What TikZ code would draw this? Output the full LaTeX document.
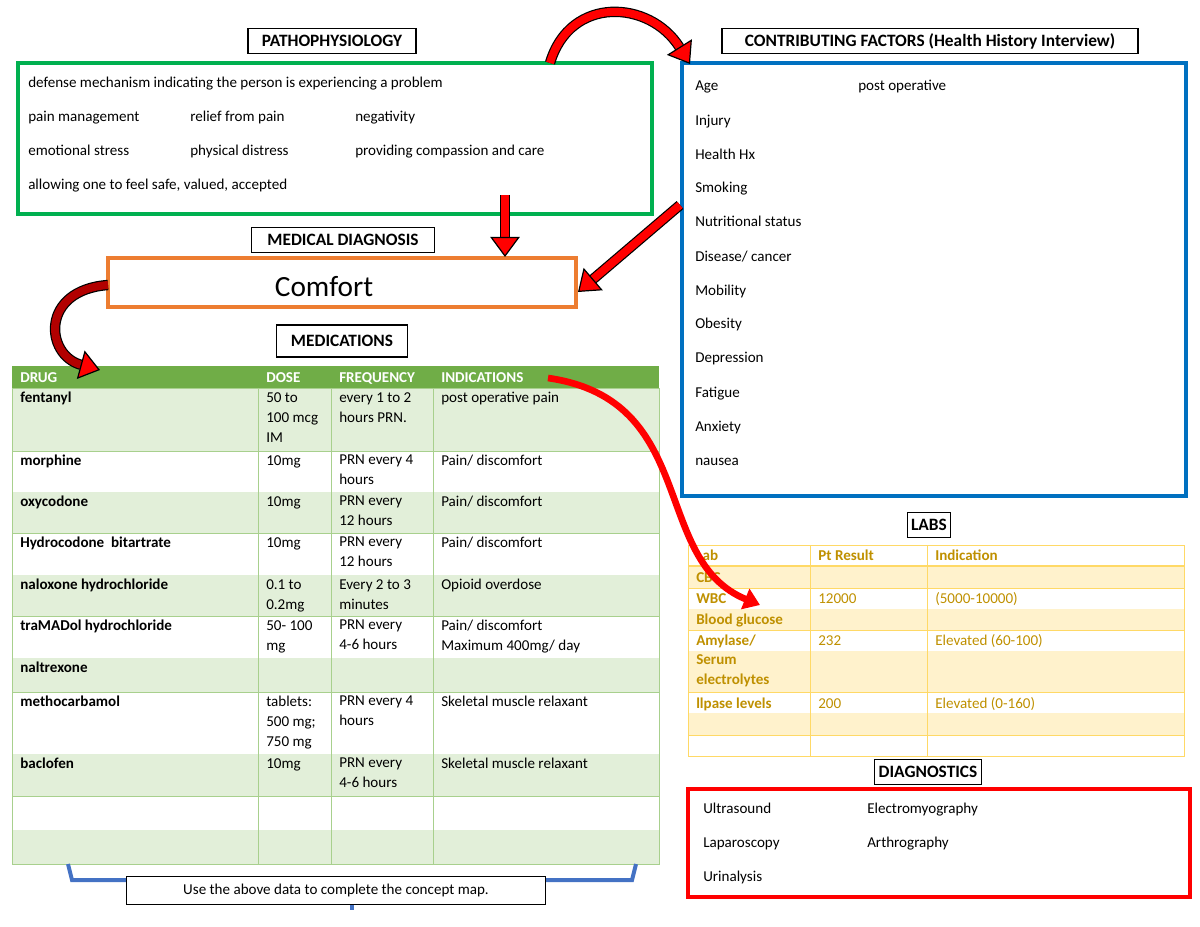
\documentclass[tikz,border=0pt]{standalone}
\usepackage{fontspec}
\setmainfont{Carlito}
\usetikzlibrary{arrows.meta,positioning}
\definecolor{greenbox}{HTML}{00B050}
\definecolor{bluebox}{HTML}{0070C0}
\definecolor{orangebox}{HTML}{ED7D31}
\definecolor{medhead}{HTML}{70AD47}
\definecolor{medshade}{HTML}{E2EFD9}
\definecolor{medline}{HTML}{A8D08D}
\definecolor{labtext}{HTML}{BF9000}
\definecolor{labline}{HTML}{FFD966}
\definecolor{labshade}{HTML}{FFF2CC}
\definecolor{bracket}{HTML}{4472C4}
\begin{document}
\begin{tikzpicture}[x=0.75pt,y=-0.75pt,
    every node/.style={font=\fontsize{11.3}{15}\selectfont, inner sep=0pt},
    title/.style={draw, thick, inner sep=3pt, minimum height=19pt, font=\fontsize{13}{15}\selectfont\bfseries},
    item/.style={anchor=base west, yshift=-4pt},
    cell/.style={anchor=north west, align=left},
    bigarrow/.style={draw=black, line width=0.9pt, double=red, double distance=6pt,
        -{Triangle[length=15pt,width=22pt,fill=red,line width=0.9pt]}},
    thinarrow/.style={red, line width=5pt, -{Triangle[length=12pt,width=16pt]}}]
\useasboundingbox (0,0) rectangle (1200,927);
% pathophysiology
\node[title, minimum width=126pt] (pathlbl) at (332,41) {PATHOPHYSIOLOGY};
\draw[greenbox, line width=3pt] (18,63) rectangle (652,214);
\coordinate (pathtop) at (550,63);
\coordinate (pathbot) at (505,195);
\node[item] at (28,82) {defense mechanism indicating the person is experiencing a problem};
\node[item] at (28,116) {pain management};
\node[item] at (190,116) {relief from pain};
\node[item] at (355,116) {negativity};
\node[item] at (28,150) {emotional stress};
\node[item] at (190,150) {physical distress};
\node[item] at (355,150) {providing compassion and care};
\node[item] at (28,184) {allowing one to feel safe, valued, accepted};
% contributing factors
\node[title, minimum width=312pt] (factlbl) at (930,41) {CONTRIBUTING FACTORS (Health History Interview)};
\draw[bluebox, line width=3pt] (682,63) rectangle (1186,496);
\coordinate (facttop) at (690,64);
\coordinate (factleft) at (680,205);
\foreach \y/\t in {85/Age,120/Injury,154/Health Hx,187/Smoking,221/Nutritional status,
    256/{Disease/ cancer},290/Mobility,323/Obesity,357/Depression,392/Fatigue,426/Anxiety,460/nausea}
    \node[item] at (695,\y) {\t};
\node[item] at (858,85) {post operative};
% medical diagnosis
\node[title, minimum width=137pt] (diaglbl) at (343,240) {MEDICAL DIAGNOSIS};
\draw[orangebox, line width=3pt] (108,258) rectangle (576,307);
\node[font=\fontsize{22}{26}\selectfont] (comfort) at (324,287) {Comfort};
\coordinate (comftop) at (505,257);
\coordinate (comfright) at (578,292);
\coordinate (comfleft) at (108,285);
% medications
\node[title, minimum width=98pt, minimum height=24pt] (medlbl) at (342,341) {MEDICATIONS};
\fill[medhead] (12,366) rectangle (659,388);
\foreach \x/\t in {20/DRUG,266/DOSE,339/FREQUENCY,441/INDICATIONS}
    \node[item, white, font=\fontsize{11.3}{13}\selectfont\bfseries] at (\x,377) {\t};
\coordinate (medtop) at (100,370);
\coordinate (medind) at (548,378);
\foreach \t/\b/\s/\dr/\ds/\fq/\in in {
    388/451/1/fentanyl/{50 to\\100 mcg\\IM}/{every 1 to 2\\hours PRN.}/post operative pain,
    451/492/0/morphine/10mg/{PRN every 4\\hours}/{Pain/ discomfort},
    492/533/1/oxycodone/10mg/{PRN every\\12 hours}/{Pain/ discomfort},
    533/575/0/Hydrocodone\ \ bitartrate/10mg/{PRN every\\12 hours}/{Pain/ discomfort},
    575/616/1/naloxone hydrochloride/{0.1 to\\0.2mg}/{Every 2 to 3\\minutes}/Opioid overdose,
    616/658/0/traMADol hydrochloride/{50- 100\\mg}/{PRN every\\4-6 hours}/{Pain/ discomfort\\Maximum 400mg/ day},
    658/692/1/naltrexone/{}/{}/{},
    692/754/0/methocarbamol/{tablets:\\500 mg;\\750 mg}/{PRN every 4\\hours}/Skeletal muscle relaxant,
    754/796/1/baclofen/10mg/{PRN every\\4-6 hours}/Skeletal muscle relaxant,
    796/830/0/{}/{}/{}/{},
    830/864/1/{}/{}/{}/{}}{
    \ifnum\s=1 \fill[medshade] (12,\t) rectangle (659,\b); \fi
    \draw[medline] (12,\b) -- (659,\b);
    \node[cell, font=\fontsize{11.3}{15}\selectfont\bfseries] at (20,\t+4) {\dr};
    \node[cell] at (266,\t+4) {\ds};
    \node[cell] at (339,\t+4) {\fq};
    \node[cell] at (441,\t+4) {\in};
}
\draw[medline] (12,388) rectangle (659,864);
\foreach \x in {258,331,433} \draw[medline] (\x,388) -- (\x,864);
% labs
\node[title] (lablbl) at (929,525) {LABS};
\foreach \t/\b/\s in {566/588/1,588/609/0,609/630/1,630/651/0,651/692/1,692/713/0,713/735/1,735/756/0}{
    \ifnum\s=1 \fill[labshade] (688,\t) rectangle (1184,\b); \fi
    \draw[labline] (688,\b) -- (1184,\b);
}
\draw[labline] (688,545) rectangle (1184,756);
\draw[labline, line width=2pt] (688,566) -- (1184,566);
\foreach \x in {810,927} \draw[labline] (\x,545) -- (\x,756);
\begin{scope}[every node/.append style={labtext}]
\foreach \x/\t in {696/Lab,818/Pt Result,935/Indication}
    \node[item, font=\fontsize{11.3}{13}\selectfont\bfseries] at (\x,555) {\t};
\foreach \y/\t in {577/CBC,598/WBC,619/Blood glucose,640/{Amylase/},703/llpase levels}
    \node[item, font=\fontsize{11.3}{13}\selectfont\bfseries] at (696,\y) {\t};
\node[cell, font=\fontsize{11.3}{15}\selectfont\bfseries] at (696,654) {Serum\\electrolytes};
\node[item] at (818,598) {12000};
\node[item] at (935,598) {(5000-10000)};
\node[item] at (818,640) {232};
\node[item] at (935,640) {Elevated (60-100)};
\node[item] at (818,703) {200};
\node[item] at (935,703) {Elevated (0-160)};
\end{scope}
\coordinate (labwbc) at (760,605);
% diagnostics
\node[title] (dxlbl) at (928,772) {DIAGNOSTICS};
\draw[red, line width=3pt] (688,789) rectangle (1190,897);
\node[item] at (703,808) {Ultrasound};
\node[item] at (867,808) {Electromyography};
\node[item] at (703,842) {Laparoscopy};
\node[item] at (867,842) {Arthrography};
\node[item] at (703,876) {Urinalysis};
% bracket and note
\draw[bracket, line width=3pt] (68,864) -- (72,880) -- (632,880) -- (636,864);
\draw[bracket, line width=3pt] (352,880) -- (352,910);
\node[draw, fill=white, minimum width=314pt, minimum height=21pt, inner sep=3pt] (note) at (336,890)
    {Use the above data to complete the concept map.};
% arrows
\draw[bigarrow] (pathtop) .. controls (570,-5) and (650,0) .. (facttop);
\draw[bigarrow] (pathbot) -- (comftop);
\draw[bigarrow] (factleft) -- (comfright);
\draw[bigarrow, double=red!70!black] (comfleft) .. controls (40,290) and (45,355) .. (medtop);
\draw[thinarrow] (medind) .. controls (700,400) and (650,560) .. (labwbc);
\end{tikzpicture}
\end{document}
